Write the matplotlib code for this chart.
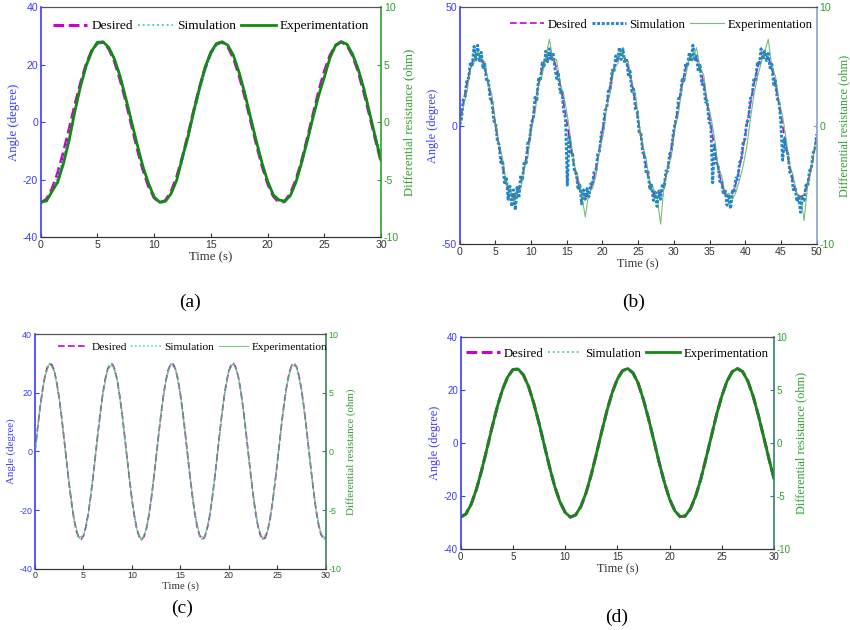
import numpy as np
import matplotlib.pyplot as plt

plt.rcParams['font.family'] = ['Liberation Serif', 'DejaVu Serif']
plt.rcParams['axes.unicode_minus'] = False

# ---------------- data ----------------
# (a) 30 s run, angle in degree, experiment in ohm
desired_a = [-28.0, -26.8, -23.2, -17.6, -10.5, -2.5, 5.8, 13.5, 20.1, 24.9,
             27.6, 27.8, 25.6, 21.2, 14.9, 7.4, -0.8, -9.0, -16.3, -22.2,
             -26.2, -28.0, -27.2, -24.1, -18.9, -12.0, -4.1, 4.2, 12.1, 18.9,
             24.1, 27.2, 27.9, 26.3, 22.3, 16.2, 8.9, 0.8, -7.4, -14.9,
             -21.2, -25.6, -27.8, -27.6, -24.9, -20.1, -13.5, -5.7, 2.5, 10.6,
             17.6, 23.2, 26.8, 28.0, 26.8, 23.2, 17.6, 10.4, 2.4, -5.8, -13.5]
simulation_a = [-28.0, -27.3, -24.1, -18.9, -12.0, -4.2, 4.2, 12.0, 18.9, 24.1,
                27.3, 28.0, 26.3, 22.3, 16.3, 9.0, 0.9, -7.4, -15.0, -21.2,
                -25.6, -27.9, -27.6, -24.9, -20.1, -13.5, -5.7, 2.6, 10.6, 17.7,
                23.3, 26.8, 28.0, 26.9, 23.3, 17.6, 10.5, 2.5, -5.8, -13.5,
                -20.1, -24.9, -27.6, -27.9, -25.7, -21.3, -15.0, -7.3, 0.8, 9.1,
                16.3, 22.3, 26.3, 28.0, 27.3, 24.1, 18.9, 11.9, 4.1, -4.2, -12.0]
experiment_a = [-6.9, -6.85, -6.0, -5.2, -3.6, -1.6, 0.9, 3.1, 4.9, 6.2,
                6.95, 7.0, 6.5, 5.5, 4.0, 2.1, 0.1, -1.9, -3.8, -5.3,
                -6.5, -6.95, -6.85, -6.2, -5.0, -3.0, -1.2, 1.0, 3.0, 4.8,
                6.1, 6.85, 7.0, 6.7, 5.8, 4.3, 2.5, 0.4, -1.6, -3.5,
                -5.1, -6.3, -6.75, -6.85, -6.4, -5.2, -3.5, -1.6, 0.4, 2.3,
                3.9, 5.6, 6.7, 7.0, 6.8, 5.9, 4.6, 2.9, 0.8, -1.3, -3.3]

# (b) 50 s run, noisy
desired_b = [0.0, 4.7, 9.3, 13.6, 17.6, 21.2, 24.3, 26.7, 28.5, 29.6,
             30.0, 29.6, 28.5, 26.7, 24.3, 21.2, 17.6, 13.6, 9.3, 4.7,
             0.0, -4.7, -9.3, -13.6, -17.6, -21.2, -24.3, -26.7, -28.5, -29.6,
             -30.0, -29.6, -28.5, -26.7, -24.3, -21.2, -17.6, -13.6, -9.3, -4.7] * 5
simulation_b = [
    0.5, 2.8, 11.0, 12.4, 19.5, 20.1, 27.0, 25.1, 33.5, 27.8,
    34.0, 27.5, 31.0, 24.0, 26.0, 18.5, 19.0, 11.5, 10.5, 2.0,
    1.5, -6.5, -8.0, -16.0, -15.5, -24.0, -21.5, -31.0, -25.5, -34.0,
    -27.0, -35.5, -26.0, -30.5, -21.0, -23.0, -15.0, -16.5, -7.0, -6.0,
    1.5, 3.0, 12.0, 11.0, 20.5, 19.0, 26.5, 24.5, 31.5, 27.0,
    32.5, 27.5, 31.0, 25.0, 20.0, 22.5, 14.0, 15.0, 6.0, 3.5,
    -25.0, -4.0, -11.5, -12.0, -19.5, -20.0, -27.0, -25.0, -33.0, -27.0,
    -31.0, -26.5, -30.0, -24.5, -25.0, -19.0, -18.5, -12.0, -10.5, -3.0,
    -1.0, 6.5, 7.5, 15.5, 16.0, 23.5, 22.5, 29.5, 27.0, 33.0,
    28.0, 32.5, 26.5, 28.5, 21.5, 23.0, 14.5, 15.5, 7.0, 6.0,
    -2.5, -3.0, -11.0, -12.5, -20.0, -19.5, -27.0, -25.0, -31.5, -28.0,
    -34.0, -27.5, -31.0, -24.5, -26.0, -19.0, -19.0, -12.0, -10.5, -3.5,
    1.0, 3.5, 11.5, 12.0, 19.5, 19.0, 26.5, 25.0, 31.0, 27.0,
    34.0, 28.0, 29.5, 23.0, 25.5, 17.5, 18.5, 10.0, 10.5, 1.5,
    0.5, -24.0, -8.0, -15.5, -16.5, -23.5, -23.0, -29.0, -27.0, -33.5,
    -29.0, -35.0, -27.5, -28.0, -22.0, -22.5, -15.5, -14.5, -7.0, -5.5,
    1.5, 2.5, 11.5, 12.5, 20.0, 19.5, 27.0, 25.5, 32.5, 28.0,
    31.5, 27.5, 30.5, 24.5, 26.0, 17.5, 19.0, 11.5, 10.0, 2.0,
    -14.5, -5.5, -10.5, -12.0, -19.5, -20.5, -27.0, -26.0, -32.0, -30.0,
    -36.5, -30.5, -31.5, -25.0, -25.5, -19.0, -18.0, -11.5, -10.0, -3.5]
experiment_b = [
    0.0, 1.6, 2.8, 4.8, 5.3, 6.3, 5.6, 5.4, 3.6, 2.6,
    0.2, -1.6, -2.8, -4.9, -5.2, -6.4, -5.6, -5.4, -3.6, -2.6,
    -0.3, 1.1, 3.4, 4.3, 5.8, 7.3, 5.6, 5.6, 3.6, 2.6,
    0.9, -1.2, -3.4, -4.3, -5.8, -7.7, -5.6, -5.3, -4.2, -2.0,
    -0.8, 1.6, 2.8, 4.8, 5.2, 6.4, 5.6, 5.4, 3.6, 2.7,
    0.2, -1.6, -2.8, -4.9, -5.3, -6.0, -8.3, -4.9, -3.6, -2.6,
    -0.2, 1.1, 3.3, 4.2, 5.8, 5.7, 6.6, 4.9, 4.3, 2.0,
    0.8, -1.0, -3.4, -4.2, -5.8, -5.7, -6.2, -5.6, -4.6, -3.4,
    -1.8, 0.5, 2.6, 4.1, 5.3, 6.2, 7.3, 5.0, 4.2, 2.1,
    0.8, -1.1, -3.3, -4.3, -5.8, -5.9, -8.0, -5.0, -3.7, -1.6]

# (c) 30 s run, faster sine
desired_c = [0.0, 7.4, 14.4, 20.4, 25.2, 28.5, 29.9, 29.5, 27.3, 23.3,
             18.0, 11.5, 4.2, -3.2, -10.5, -17.1, -22.7, -26.9, -29.3, -30.0,
             -28.8, -25.8, -21.2, -15.2, -8.4, -1.0, 6.5, 13.5, 19.7, 24.7,
             28.1, 29.8, 29.7, 27.7, 24.0, 18.7, 12.4, 5.2, -2.3, -9.6,
             -16.3, -22.0, -26.4, -29.1, -30.0, -29.0, -26.3, -21.9, -16.1, -9.3,
             -2.0, 5.5, 12.6, 19.0, 24.1, 27.8, 29.7, 29.8, 28.0, 24.5,
             19.5, 13.3, 6.2, -1.3, -8.6, -15.5, -21.4, -26.0, -28.8, -30.0,
             -29.3, -26.7, -22.5, -16.9, -10.3, -3.0, 4.5, 11.7, 18.2, 23.5,
             27.4, 29.6, 29.9, 28.4, 25.1, 20.3, 14.2, 7.2, -0.3, -7.7,
             -14.6, -20.7, -25.4, -28.5, -29.9, -29.5, -27.2, -23.2, -17.7, -11.2,
             -4.0, 3.5, 10.8, 17.4, 22.9, 27.0, 29.4, 30.0, 28.7, 25.6,
             21.0, 15.0, 8.1, 0.7, -6.7, -13.7, -19.9, -24.8, -28.2, -29.9, -29.6]
simulation_c = list(desired_c)  # indistinguishable from desired in (c)
experiment_c = [0.0, 3.6, 6.3, 7.5, 6.8, 4.5, 1.05, -2.6, -5.7, -7.3,
                -7.2, -5.3, -2.1, 1.6, 4.9, 7.0, 7.4, 6.0, 3.1, -0.6,
                -4.1, -6.6, -7.6, -6.6, -4.0, -0.5, 3.15, 6.0, 7.5, 7.0,
                4.9, 1.55, -2.15, -5.35, -7.2, -7.35, -5.6, -2.6, 1.1, 4.55,
                6.85, 7.55, 6.3, 3.55, -0.1, -3.65, -6.35, -7.5, -6.8, -4.4,
                -1.0, 2.7, 5.7, 7.35, 7.2, 5.25, 2.0, -1.7, -5.0, -7.05, -7.4]

# (d) same reference as (a), tracked almost perfectly
desired_d = list(desired_a)
simulation_d = list(desired_a)
experiment_d = [-7.0, -6.7, -5.8, -4.4, -2.6, -0.6, 1.45, 3.4, 5.0, 6.2,
                6.9, 6.95, 6.4, 5.3, 3.7, 1.85, -0.2, -2.25, -4.1, -5.55,
                -6.55, -7.0, -6.8, -6.0, -4.7, -3.0, -1.0, 1.05, 3.0, 4.7,
                6.0, 6.8, 7.0, 6.6, 5.6, 4.05, 2.2, 0.2, -1.85, -3.7,
                -5.3, -6.4, -6.95, -6.9, -6.2, -5.0, -3.4, -1.4, 0.6, 2.65,
                4.4, 5.8, 6.7, 7.0, 6.7, 5.8, 4.4, 2.6, 0.6, -1.45, -3.4]

legend_names = ['Desired', 'Simulation', 'Experimentation']

BLUE = '#3b3bff'
GREEN = '#2f9f2f'
MAGENTA = '#cc00cc'
CYAN = '#33cccc'


def panel(fig, rect, t_d, des, t_s, sim, t_e, exp, xmax, xticks, yl, ylt, yr, yrt,
          st_d, st_s, st_e, fs_tick, fs_lab, leg_xy, right_col):
    ax = fig.add_axes(rect)
    l1, = ax.plot(t_d, des, color=MAGENTA, **st_d)
    l2, = ax.plot(t_s, sim, **st_s)
    ax.set_xlim(0, xmax)
    ax.set_ylim(*yl)
    ax.set_xticks(xticks)
    ax.set_yticks(ylt)
    ax2 = ax.twinx()
    l3, = ax2.plot(t_e, exp, **st_e)
    ax2.set_ylim(*yr)
    ax2.set_yticks(yrt)

    ax.spines['left'].set_color(BLUE)
    ax.spines['left'].set_linewidth(1.2)
    ax.spines['right'].set_visible(False)
    ax2.spines['left'].set_visible(False)
    ax2.spines['right'].set_color(right_col)
    ax2.spines['right'].set_linewidth(1.2)
    for a in (ax, ax2):
        a.spines['top'].set_color('#555555')
        a.spines['bottom'].set_color('#333333')
    ax.tick_params(axis='y', direction='in', length=3, colors=BLUE, labelsize=fs_tick, pad=2)
    ax.tick_params(axis='x', direction='in', length=3, color='#333333', labelcolor='#333333',
                   labelsize=fs_tick, pad=2)
    ax2.tick_params(axis='y', direction='in', length=3, color=right_col, labelcolor=GREEN,
                    labelsize=fs_tick, pad=2)
    # MATLAB-style sans tick numbers
    for lab in ax.get_xticklabels() + ax.get_yticklabels() + ax2.get_yticklabels():
        lab.set_fontfamily(['Liberation Sans', 'DejaVu Sans'])

    ax.set_xlabel('Time (s)', fontsize=fs_lab, color='#333333', labelpad=1)
    ax.set_ylabel('Angle (degree)', fontsize=fs_lab, color=BLUE, labelpad=2)
    ax2.set_ylabel('Differential resistance (ohm)', fontsize=fs_lab, color=GREEN, labelpad=3)

    ax2.legend([l1, l2, l3], legend_names, loc='upper center', bbox_to_anchor=leg_xy,
               ncol=3, frameon=False, fontsize=fs_lab + 0.4, handlelength=2.6,
               handletextpad=0.3, columnspacing=0.4, borderaxespad=0.3)
    return ax, ax2


fig = plt.figure(figsize=(8.5, 6.3), dpi=100)

t_a = np.linspace(0, 30, len(desired_a))
panel(fig, [0.0479, 0.6233, 0.4003, 0.3651], t_a, desired_a, t_a, simulation_a, t_a, experiment_a,
      30, range(0, 31, 5), (-40, 40), [-40, -20, 0, 20, 40], (-10, 10), [-10, -5, 0, 5, 10],
      dict(ls=(0, (3.5, 1.5)), lw=2.2),
      dict(color=CYAN, ls=':', lw=1.3),
      dict(color='#138a13', lw=2.0),
      7.6, 9.2, (0.5, 0.985), GREEN)

t_b = np.linspace(0, 50, len(simulation_b))
panel(fig, [0.5408, 0.6122, 0.4200, 0.3762], t_b, desired_b, t_b, simulation_b, t_b[::2], experiment_b,
      50, range(0, 51, 5), (-50, 50), [-50, 0, 50], (-10, 10), [-10, 0, 10],
      dict(ls=(0, (4, 2)), lw=1.2),
      dict(color='#1f86cc', ls=(0, (1, 0.6)), lw=2.1),
      dict(color='#4aa84a', lw=0.8, alpha=0.75),
      7.6, 8.8, (0.565, 0.99), '#8aa0d8')

t_c = np.linspace(0, 30, len(desired_c))
t_ce = np.linspace(0, 30, len(experiment_c))
panel(fig, [0.0412, 0.0973, 0.3420, 0.3725], t_c, desired_c, t_c, simulation_c, t_ce, experiment_c,
      30, range(0, 31, 5), (-40, 40), [-40, -20, 0, 20, 40], (-10, 10), [-10, -5, 0, 5, 10],
      dict(ls=(0, (4, 2)), lw=1.2),
      dict(color=CYAN, ls=':', lw=1.1),
      dict(color='#5cb85c', lw=0.8, alpha=0.8),
      6.4, 7.8, (0.543, 1.0), '#3f7f5f')

t_d = np.linspace(0, 30, len(desired_d))
panel(fig, [0.5420, 0.1286, 0.3686, 0.3370], t_d, desired_d, t_d, simulation_d, t_d, experiment_d,
      30, range(0, 31, 5), (-40, 40), [-40, -20, 0, 20, 40], (-10, 10), [-10, -5, 0, 5, 10],
      dict(ls=(0, (3.5, 1.5)), lw=2.2),
      dict(color=CYAN, ls=':', lw=1.3),
      dict(color='#138a13', lw=2.0),
      7.0, 8.8, (0.5, 0.99), '#3a7f6f')

for label, x, y in [('(a)', 190, 302), ('(b)', 634, 302), ('(c)', 182, 608), ('(d)', 617, 617)]:
    fig.text(x / 850, 1 - y / 630, label, ha='center', va='center', fontsize=14)

fig.savefig('out.png', dpi=100)
